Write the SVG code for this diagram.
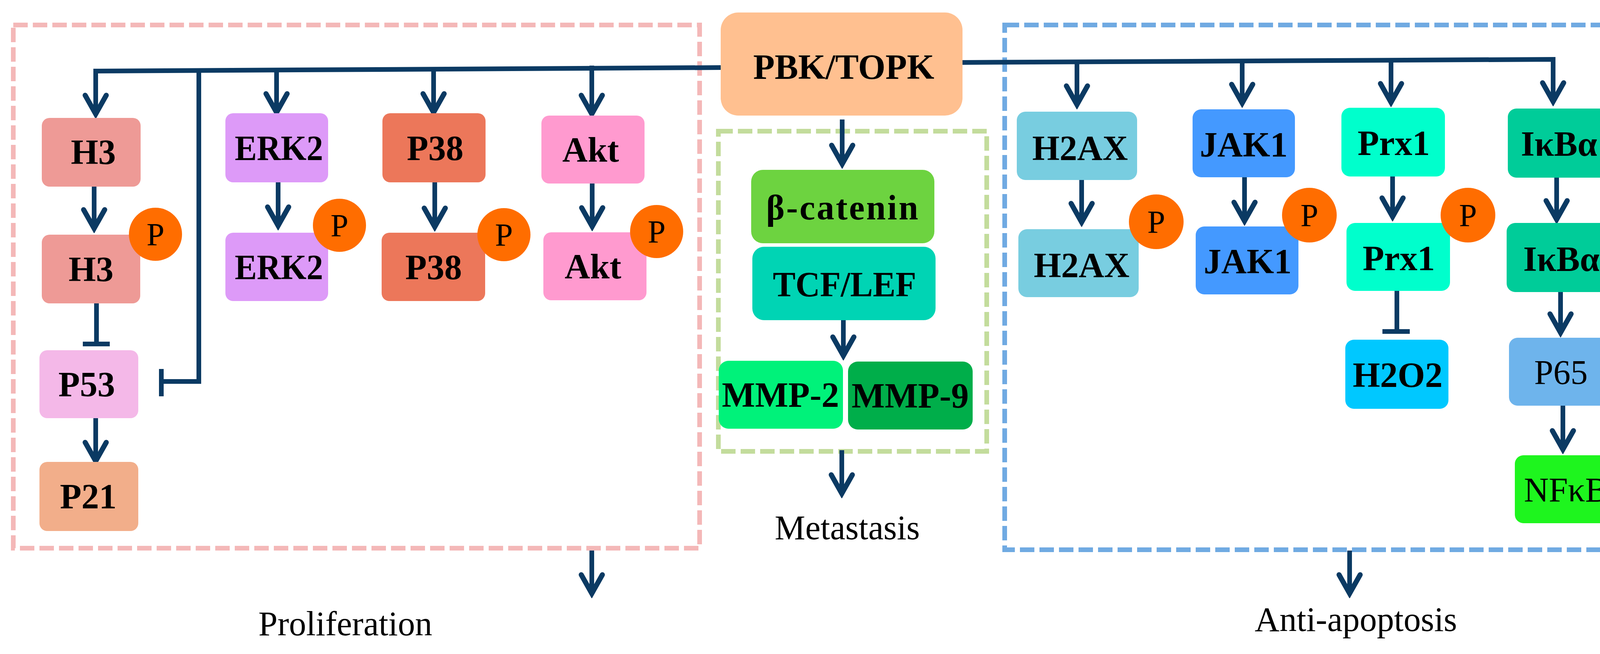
<svg xmlns="http://www.w3.org/2000/svg" width="4331" height="1675" viewBox="0 0 4331 1675">
<defs>
<marker id="arr" markerUnits="userSpaceOnUse" viewBox="-60 -40 70 80" markerWidth="70" markerHeight="80" refX="0" refY="0" orient="auto">
<path d="M-50,-27 L-2,0 L-50,27" fill="none" stroke="#0B3A63" stroke-width="13" stroke-linejoin="miter" stroke-linecap="round"/>
</marker>
</defs>
<style>
.c{fill:none;stroke:#0B3A63;stroke-width:12}
.a{marker-end:url(#arr)}
.b{font-family:"Liberation Serif",serif;font-weight:bold;font-size:90px;text-anchor:middle;dominant-baseline:central;fill:#000}
.r{font-family:"Liberation Serif",serif;font-size:88px;text-anchor:middle;dominant-baseline:central;fill:#000}
.p{fill:#FF6D00}
.pt{font-family:"Liberation Serif",serif;font-size:82px;text-anchor:middle;dominant-baseline:central;fill:#000}
.d{fill:none;stroke-width:12;stroke-dasharray:37 13}
</style>
<rect x="34" y="64" width="1757" height="1340" class="d" stroke="#F4B8B8"/>
<rect x="1839" y="336" width="687" height="820" class="d" stroke="#C3DC9C"/>
<rect x="2572" y="64" width="1716" height="1344" class="d" stroke="#70AAE2"/>
<g id="connectors">
<polyline class="c a" points="1845,173 245,182 245,294"/>
<line class="c a" x1="708" y1="180" x2="708" y2="290"/>
<line class="c a" x1="1110" y1="178" x2="1110" y2="290"/>
<line class="c a" x1="1515" y1="168" x2="1515" y2="294"/>
<polyline class="c" points="509,180 509,977 413,977"/>
<line class="c" x1="413" y1="945" x2="413" y2="1015"/>
<line class="c a" x1="241" y1="477" x2="241" y2="587"/>
<line class="c" x1="247" y1="777" x2="247" y2="881"/>
<line class="c" x1="212" y1="881" x2="281" y2="881"/>
<line class="c a" x1="245" y1="1071" x2="245" y2="1183"/>
<line class="c a" x1="712" y1="467" x2="712" y2="580"/>
<line class="c a" x1="1113" y1="467" x2="1113" y2="583"/>
<line class="c a" x1="1516" y1="470" x2="1516" y2="582"/>
<line class="c a" x1="1515" y1="1410" x2="1515" y2="1522"/>
<line class="c a" x1="2156" y1="306" x2="2156" y2="422"/>
<line class="c a" x1="2159" y1="820" x2="2159" y2="913"/>
<line class="c a" x1="2155" y1="1153" x2="2155" y2="1266"/>
<polyline class="c a" points="2464,160 3976,152 3976,262"/>
<line class="c a" x1="2757" y1="158" x2="2757" y2="270"/>
<line class="c a" x1="3180" y1="156" x2="3180" y2="266"/>
<line class="c a" x1="3561" y1="155" x2="3561" y2="264"/>
<line class="c a" x1="2769" y1="459" x2="2769" y2="571"/>
<line class="c a" x1="3186" y1="454" x2="3186" y2="568"/>
<line class="c a" x1="3565" y1="449" x2="3565" y2="557"/>
<line class="c" x1="3576" y1="745" x2="3576" y2="849"/>
<line class="c" x1="3539" y1="849" x2="3609" y2="849"/>
<line class="c a" x1="3985" y1="454" x2="3985" y2="564"/>
<line class="c a" x1="3995" y1="748" x2="3995" y2="854"/>
<line class="c a" x1="4001" y1="1039" x2="4001" y2="1153"/>
<line class="c a" x1="3455" y1="1410" x2="3455" y2="1522"/>
</g>
<g id="pbk"><rect x="1845" y="32" width="619" height="264" rx="45" fill="#FFC090"/><text x="2160" y="171" class="b" font-size="106">PBK/TOPK</text></g>
<g id="h3a"><rect x="107" y="302" width="253" height="176" rx="20" fill="#EE9A96"/><text x="239" y="389" class="b">H3</text></g>
<g id="h3b"><rect x="107" y="601" width="252" height="176" rx="20" fill="#EE9A96"/><text x="233" y="689" class="b">H3</text><circle cx="398" cy="600" r="68" class="p"/><text x="398" y="600" class="pt">P</text></g>
<g id="p53"><rect x="101" y="897" width="253" height="174" rx="20" fill="#F4B8E8"/><text x="222" y="984" class="b">P53</text></g>
<g id="p21"><rect x="101" y="1183" width="253" height="177" rx="20" fill="#F2AE8A"/><text x="226" y="1271" class="b">P21</text></g>
<g id="erk2a"><rect x="577" y="290" width="263" height="177" rx="20" fill="#DD9AF8"/><text x="714" y="379" class="b" textLength="226" lengthAdjust="spacingAndGlyphs">ERK2</text></g>
<g id="erk2b"><rect x="577" y="596" width="263" height="175" rx="20" fill="#DD9AF8"/><text x="714" y="684" class="b" textLength="226" lengthAdjust="spacingAndGlyphs">ERK2</text><circle cx="869" cy="577" r="68" class="p"/><text x="869" y="577" class="pt">P</text></g>
<g id="p38a"><rect x="979" y="290" width="264" height="177" rx="20" fill="#EC775A"/><text x="1114" y="379" class="b">P38</text></g>
<g id="p38b"><rect x="977" y="596" width="265" height="175" rx="20" fill="#EC775A"/><text x="1110" y="684" class="b">P38</text><circle cx="1290" cy="601" r="68" class="p"/><text x="1290" y="601" class="pt">P</text></g>
<g id="akta"><rect x="1386" y="296" width="264" height="174" rx="20" fill="#FF9ACF"/><text x="1512" y="383" class="b">Akt</text></g>
<g id="aktb"><rect x="1391" y="595" width="264" height="174" rx="20" fill="#FF9ACF"/><text x="1518" y="682" class="b">Akt</text><circle cx="1681" cy="593" r="68" class="p"/><text x="1681" y="593" class="pt">P</text></g>
<g id="bcat"><rect x="1923" y="435" width="469" height="188" rx="30" fill="#6DD340"/><text x="2158" y="531" class="b" font-size="86" letter-spacing="4">β-catenin</text></g>
<g id="tcf"><rect x="1926" y="632" width="469" height="188" rx="30" fill="#00D4B4"/><text x="2162" y="728" class="b" font-size="86" textLength="367" lengthAdjust="spacingAndGlyphs">TCF/LEF</text></g>
<g id="mmp2"><rect x="1840" y="924" width="318" height="174" rx="25" fill="#00F27A"/><text x="1998" y="1011" class="b" font-size="86">MMP-2</text></g>
<g id="mmp9"><rect x="2171" y="926" width="319" height="174" rx="25" fill="#00AE4A"/><text x="2330" y="1013" class="b" font-size="86">MMP-9</text></g>
<g id="h2axa"><rect x="2603" y="286" width="308" height="175" rx="22" fill="#78CDE0"/><text x="2765" y="379" class="b">H2AX</text></g>
<g id="h2axb"><rect x="2607" y="587" width="308" height="174" rx="22" fill="#78CDE0"/><text x="2769" y="679" class="b">H2AX</text><circle cx="2960" cy="568" r="70" class="p"/><text x="2960" y="568" class="pt">P</text></g>
<g id="jak1a"><rect x="3053" y="280" width="262" height="174" rx="22" fill="#4499FF"/><text x="3184" y="370" class="b">JAK1</text></g>
<g id="jak1b"><rect x="3061" y="580" width="263" height="174" rx="22" fill="#4499FF"/><text x="3194" y="669" class="b">JAK1</text><circle cx="3352" cy="551" r="70" class="p"/><text x="3352" y="551" class="pt">P</text></g>
<g id="prx1a"><rect x="3434" y="276" width="265" height="176" rx="22" fill="#00FFCC"/><text x="3568" y="366" class="b">Prx1</text></g>
<g id="prx1b"><rect x="3447" y="571" width="265" height="174" rx="22" fill="#00FFCC"/><text x="3581" y="661" class="b">Prx1</text><circle cx="3758" cy="551" r="70" class="p"/><text x="3758" y="551" class="pt">P</text></g>
<g id="h2o2"><rect x="3444" y="870" width="264" height="177" rx="22" fill="#00C8FF"/><text x="3578" y="960" class="b">H2O2</text></g>
<g id="ikba"><rect x="3860" y="278" width="263" height="177" rx="22" fill="#00CC99"/><text x="3991" y="368" class="b">IκBα</text></g>
<g id="ikbb"><rect x="3857" y="571" width="262" height="177" rx="22" fill="#00CC99"/><text x="3997" y="663" class="b">IκBα</text><circle cx="4170" cy="557" r="70" class="p"/><text x="4170" y="557" class="pt">P</text></g>
<g id="p65"><rect x="3863" y="865" width="261" height="174" rx="22" fill="#6EB4EC"/><text x="3996" y="953" class="r">P65</text></g>
<g id="nfkb"><rect x="3878" y="1166" width="262" height="174" rx="22" fill="#1EF51E"/><text x="4009" y="1254" class="r">NFκB</text></g>
<g id="labels">
<text x="884" y="1597" class="r">Proliferation</text>
<text x="2169" y="1351" class="r">Metastasis</text>
<text x="3471" y="1586" class="r">Anti-apoptosis</text>
</g>
</svg>
